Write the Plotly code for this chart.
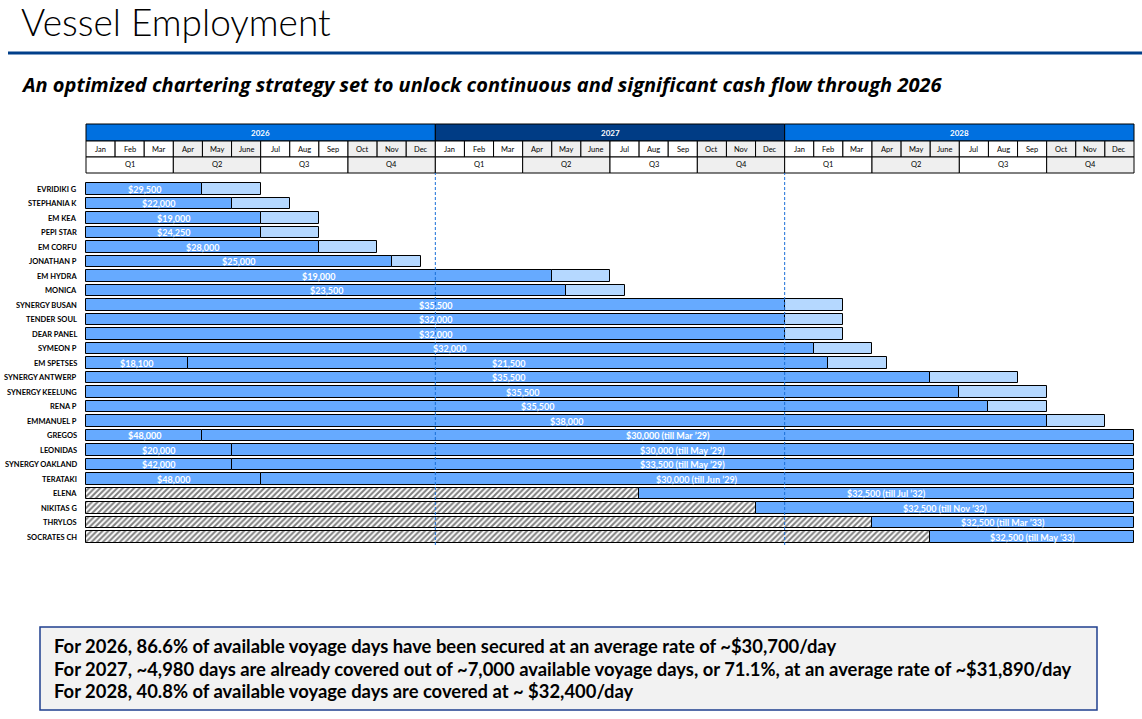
import plotly.graph_objects as go

# ---------------- data ----------------
vessels = ["EVRIDIKI G", "STEPHANIA K", "EM KEA", "PEPI STAR", "EM CORFU", "JONATHAN P",
           "EM HYDRA", "MONICA", "SYNERGY BUSAN", "TENDER SOUL", "DEAR PANEL", "SYMEON P",
           "EM SPETSES", "SYNERGY ANTWERP", "SYNERGY KEELUNG", "RENA P", "EMMANUEL P",
           "GREGOS", "LEONIDAS", "SYNERGY OAKLAND", "TERATAKI", "ELENA", "NIKITAS G",
           "THRYLOS", "SOCRATES CH"]

# months counted from Jan 2026 (0) to Dec 2028 end (36)
pending_end = [0, 0, 0, 0, 0, 0, 0, 0, 0, 0, 0, 0, 0, 0, 0, 0, 0, 0, 0, 0, 0,
               19, 23, 27, 29]
charter1_end = [4, 5, 6, 6, 8, 10.5, 16, 16.5, 24, 24, 24, 25, 3.5, 29, 30, 31, 33,
                4, 5, 5, 6, 36, 36, 36, 36]
charter1_label = ["$29,500", "$22,000", "$19,000", "$24,250", "$28,000", "$25,000",
                  "$19,000", "$23,500", "$35,500", "$32,000", "$32,000", "$32,000",
                  "$18,100", "$35,500", "$35,500", "$35,500", "$38,000",
                  "$48,000", "$20,000", "$42,000", "$48,000",
                  "$32,500 (till Jul ’32)", "$32,500 (till Nov ’32)",
                  "$32,500 (till Mar ’33)", "$32,500 (till May ’33)"]
charter2_end = [None] * 12 + [25.5] + [None] * 4 + [36, 36, 36, 36] + [None] * 4
charter2_label = [None] * 12 + ["$21,500"] + [None] * 4 + [
    "$30,000 (till Mar ’29)", "$30,000 (till May ’29)",
    "$33,500 (till May ’29)", "$30,000 (till Jun ’29)"] + [None] * 4
option_end = [6, 7, 8, 8, 10, 11.5, 18, 18.5, 26, 26, 26, 27, 27.5, 32, 33, 33, 35] + [None] * 8

years = ["2026", "2027", "2028"]
months = ["Jan", "Feb", "Mar", "Apr", "May", "June", "Jul", "Aug", "Sep", "Oct", "Nov", "Dec"]
quarters = ["Q1", "Q2", "Q3", "Q4"]

title_text = "Vessel Employment"
subtitle_text = "An optimized chartering strategy set to unlock continuous and significant cash flow through 2026"
notes = [
    "For 2026, 86.6% of available voyage days have been secured at an average rate of ~$30,700/day",
    "For 2027, ~4,980 days are already covered out of ~7,000 available voyage days, or 71.1%, at an average rate of ~$31,890/day",
    "For 2028, 40.8% of available voyage days are covered at ~ $32,400/day",
]

# ---------------- layout geometry ----------------
W, H = 1142, 719
X0, X1 = 86, 1134          # pixel positions of Jan 2026 start / Dec 2028 end
MW = (X1 - X0) / 36.0
ROW0, ROWH = 189, 14.5


def py(p):  # pixel y -> paper
    return 1 - p / H


def px(p):  # pixel x -> paper
    return p / W


FIRM = "#66aaff"
OPT = "#b5d8ff"
FONT = "Lato"

rows = list(range(len(vessels)))
fig = go.Figure()

# pending (hatched) period
hx, hy = [], []
for i in rows:
    if pending_end[i] > 0:
        hx.append(pending_end[i]); hy.append(i)
fig.add_trace(go.Bar(orientation="h", y=hy, x=hx, base=[0] * len(hx), width=0.76,
                     marker=dict(color="white", line=dict(color="black", width=1),
                                 pattern=dict(shape="/", fgcolor="black", bgcolor="white",
                                              size=4, solidity=0.5)),
                     hoverinfo="skip"))

# first charter
c1b = [pending_end[i] for i in rows]
c1x = [charter1_end[i] - pending_end[i] for i in rows]
fig.add_trace(go.Bar(orientation="h", y=rows, x=c1x, base=c1b, width=0.76,
                     marker=dict(color=FIRM, line=dict(color="black", width=1)),
                     hoverinfo="skip"))

# second charter
c2y, c2x, c2b = [], [], []
for i in rows:
    if charter2_end[i] is not None:
        c2y.append(i); c2b.append(charter1_end[i]); c2x.append(charter2_end[i] - charter1_end[i])
fig.add_trace(go.Bar(orientation="h", y=c2y, x=c2x, base=c2b, width=0.76,
                     marker=dict(color=FIRM, line=dict(color="black", width=1)),
                     hoverinfo="skip"))

# option periods
oy, ox, ob = [], [], []
for i in rows:
    if option_end[i] is not None:
        last = charter2_end[i] if charter2_end[i] is not None else charter1_end[i]
        oy.append(i); ob.append(last); ox.append(option_end[i] - last)
fig.add_trace(go.Bar(orientation="h", y=oy, x=ox, base=ob, width=0.76,
                     marker=dict(color=OPT, line=dict(color="black", width=1)),
                     hoverinfo="skip"))

ann = []
shapes = []


def A(**kw):
    kw.setdefault("showarrow", False)
    kw.setdefault("xanchor", "center")
    kw.setdefault("yanchor", "middle")
    ann.append(kw)


# bar labels
for i in rows:
    A(x=(pending_end[i] + charter1_end[i]) / 2, y=i, xref="x", yref="y",
      text="<b>%s</b>" % charter1_label[i], font=dict(family=FONT, size=9, color="white"))
    if charter2_end[i] is not None:
        A(x=(charter1_end[i] + charter2_end[i]) / 2, y=i, xref="x", yref="y",
          text="<b>%s</b>" % charter2_label[i], font=dict(family=FONT, size=9, color="white"))
    # vessel names
    A(x=px(79), y=i, xref="paper", yref="y", xanchor="right",
      text="<b>%s</b>" % vessels[i], font=dict(family=FONT, size=7.5, color="black"))

# header: years / months / quarters
ycol = ["#0070e0", "#003c85", "#0070e0"]
for k, yr in enumerate(years):
    shapes.append(dict(type="rect", xref="x", yref="paper", x0=12 * k, x1=12 * (k + 1),
                       y0=py(141), y1=py(124), fillcolor=ycol[k],
                       line=dict(color="black", width=1), layer="above"))
    A(x=12 * k + 6, y=py(132.5), xref="x", yref="paper", text="<b>%s</b>" % yr,
      font=dict(family=FONT, size=8, color="white"))
    for m, mn in enumerate(months):
        q = m // 3
        fill = "#efefef" if q % 2 == 1 else "white"
        mi = 12 * k + m
        shapes.append(dict(type="rect", xref="x", yref="paper", x0=mi, x1=mi + 1,
                           y0=py(157), y1=py(141), fillcolor=fill,
                           line=dict(color="black", width=1), layer="above"))
        A(x=mi + 0.5, y=py(149), xref="x", yref="paper", text=mn,
          font=dict(family=FONT, size=7.5, color="black"))
    for q, qn in enumerate(quarters):
        fill = "#efefef" if q % 2 == 1 else "white"
        qi = 12 * k + 3 * q
        shapes.append(dict(type="rect", xref="x", yref="paper", x0=qi, x1=qi + 3,
                           y0=py(173), y1=py(157), fillcolor=fill,
                           line=dict(color="black", width=1), layer="above"))
        A(x=qi + 1.5, y=py(165), xref="x", yref="paper", text=qn,
          font=dict(family=FONT, size=7.5, color="black"))

# year boundary dashed lines
for xb in (12, 24):
    shapes.append(dict(type="line", xref="x", yref="paper", x0=xb, x1=xb,
                       y0=py(545), y1=py(173),
                       line=dict(color="#1a6fd8", width=1, dash="3px,2px"),
                       layer="above"))

# title + rule + subtitle
A(x=px(19), y=py(21), xref="paper", yref="paper", xanchor="left",
  text=title_text, font=dict(family=FONT, size=37, color="black", weight=300))
shapes.append(dict(type="line", xref="paper", yref="paper", x0=px(8), x1=px(1142),
                   y0=py(53), y1=py(53), line=dict(color="#003f8a", width=3)))
A(x=px(19), y=py(84), xref="paper", yref="paper", xanchor="left",
  text="<b><i>%s</i></b>" % subtitle_text,
  font=dict(family="Open Sans", size=20, color="black"))

# notes box
shapes.append(dict(type="rect", xref="paper", yref="paper", x0=px(40), x1=px(1097),
                   y0=py(710), y1=py(627), fillcolor="#f2f2f2",
                   line=dict(color="#1f3f8f", width=1.5)))
for j, t in enumerate(notes):
    A(x=px(52), y=py(646 + 22.5 * j), xref="paper", yref="paper",
      xanchor="left", text="<b>%s</b>" % t,
      font=dict(family=FONT, size=18.4, color="black"))

fig.update_layout(
    width=W, height=H, margin=dict(l=0, r=0, t=0, b=0),
    paper_bgcolor="white", plot_bgcolor="white", showlegend=False,
    barmode="overlay", bargap=0,
    xaxis=dict(range=[-X0 / MW, 36 + (W - X1) / MW], visible=False, fixedrange=True),
    yaxis=dict(range=[(H - ROW0) / ROWH, -ROW0 / ROWH], visible=False, fixedrange=True),
    annotations=ann, shapes=shapes,
)

fig.write_html("out.html")
